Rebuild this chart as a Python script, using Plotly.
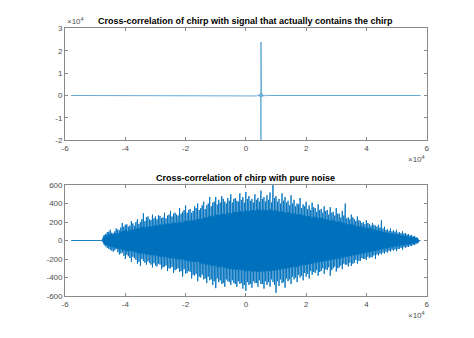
import plotly.graph_objects as go

BLUE = "#0072BD"

# ---- top panel: cross-correlation with signal containing the chirp (lags and values in units of 1e4)
top_lag = [-5.8, 0.20, 0.30, 0.36, 0.40, 0.43, 0.45, 0.47, 0.48, 0.49, 0.495, 0.4995, 0.5, 0.5005,
           0.505, 0.51, 0.52, 0.53, 0.55, 0.57, 0.60, 0.64, 0.70, 0.80, 5.8]
top_val = [0.0, 0.0, 0.01, -0.02, 0.03, -0.03, 0.04, -0.05, 0.08, -0.10, 0.12, -1.98, 2.39, -0.15,
           0.12, -0.10, 0.07, -0.06, 0.05, -0.04, 0.03, -0.02, 0.01, 0.0, 0.0]

# ---- bottom panel: cross-correlation with pure noise
flat_left = [-5.8, -4.78]
flat_right = [5.76, 5.8]

peak_lag = [-4.7, -4.6, -4.5, -4.4, -4.3, -4.2, -4.1, -4.0, -3.9, -3.8, -3.7, -3.6, -3.5, -3.4, -3.3,
            -3.2, -3.1, -3.0, -2.9, -2.8, -2.7, -2.6, -2.5, -2.4, -2.3, -2.2, -2.1, -2.0, -1.9, -1.8,
            -1.7, -1.6, -1.5, -1.4, -1.3, -1.2, -1.1, -1.0, -0.9, -0.8, -0.7, -0.6, -0.5, -0.4, -0.3,
            -0.2, -0.1, 0.0, 0.1, 0.2, 0.3, 0.4, 0.5, 0.6, 0.7, 0.8, 0.9, 1.0, 1.1, 1.2,
            1.3, 1.4, 1.5, 1.6, 1.7, 1.8, 1.9, 2.0, 2.1, 2.2, 2.3, 2.4, 2.5, 2.6, 2.7,
            2.8, 2.9, 3.0, 3.1, 3.2, 3.3, 3.4, 3.5, 3.6, 3.7, 3.8, 3.9, 4.0, 4.1, 4.2,
            4.3, 4.4, 4.5, 4.6, 4.7, 4.8, 4.9, 5.0, 5.1, 5.2, 5.3, 5.4, 5.5, 5.6, 5.7]
peak_top = [60, 90, 116, 80, 130, 110, 190, 170, 150, 210, 160, 230, 200, 295, 250,
            230, 280, 260, 275, 240, 300, 270, 320, 290, 280, 350, 310, 380, 330, 300,
            370, 400, 350, 420, 380, 470, 410, 470, 440, 480, 420, 460, 500, 450, 430,
            510, 470, 525, 480, 450, 500, 460, 540, 470, 490, 520, 600, 480, 450, 510,
            470, 430, 490, 440, 400, 460, 390, 420, 380, 410, 350, 390, 340, 370, 330,
            360, 310, 350, 290, 320, 400, 250, 280, 230, 260, 210, 200, 220, 180, 190,
            160, 170, 220, 150, 120, 130, 110, 115, 90, 100, 80, 70, 60, 50, 30]
peak_bot = [-50, -80, -100, -120, -90, -150, -130, -200, -170, -230, -190, -250, -275, -220, -260,
            -240, -290, -270, -250, -310, -280, -330, -300, -350, -310, -340, -390, -360, -330, -410,
            -380, -440, -400, -420, -460, -430, -480, -515, -450, -470, -500, -440, -480, -460, -500,
            -470, -520, -545, -480, -510, -460, -500, -470, -520, -480, -500, -450, -565, -490, -460,
            -510, -440, -470, -420, -450, -400, -430, -390, -410, -370, -350, -380, -330, -360, -320,
            -380, -300, -335, -290, -310, -260, -280, -275, -240, -250, -220, -200, -210, -190, -180,
            -200, -160, -150, -140, -130, -120, -110, -115, -90, -100, -80, -70, -60, -50, -30]

mid_lag = [-4.65, -4.55, -4.45, -4.35, -4.25, -4.15, -4.05, -3.95, -3.85, -3.75,
           -3.65, -3.55, -3.45, -3.35, -3.25, -3.15, -3.05, -2.95, -2.85, -2.75,
           -2.65, -2.55, -2.45, -2.35, -2.25, -2.15, -2.05, -1.95, -1.85, -1.75,
           -1.65, -1.55, -1.45, -1.35, -1.25, -1.15, -1.05, -0.95, -0.85, -0.75,
           -0.65, -0.55, -0.45, -0.35, -0.25, -0.15, -0.05, 0.05, 0.15, 0.25,
           0.35, 0.45, 0.55, 0.65, 0.75, 0.85, 0.95, 1.05, 1.15, 1.25,
           1.35, 1.45, 1.55, 1.65, 1.75, 1.85, 1.95, 2.05, 2.15, 2.25,
           2.35, 2.45, 2.55, 2.65, 2.75, 2.85, 2.95, 3.05, 3.15, 3.25,
           3.35, 3.45, 3.55, 3.65, 3.75, 3.85, 3.95, 4.05, 4.15, 4.25,
           4.35, 4.45, 4.55, 4.65, 4.75, 4.85, 4.95, 5.05, 5.15, 5.25,
           5.35, 5.45, 5.55, 5.65]
mid_top = [70, 95, 85, 100, 120, 140, 150, 175, 160, 185,
           200, 180, 230, 210, 260, 220, 240, 230, 265, 250,
           240, 280, 260, 300, 270, 290, 330, 300, 340, 320,
           350, 330, 380, 340, 400, 370, 420, 390, 410, 450,
           400, 430, 410, 460, 420, 440, 410, 450, 430, 410,
           440, 420, 450, 420, 440, 410, 460, 420, 400, 430,
           410, 380, 400, 370, 390, 350, 370, 340, 330, 360,
           310, 330, 300, 320, 280, 300, 270, 290, 250, 270,
           240, 230, 250, 210, 220, 190, 175, 190, 160, 170,
           150, 140, 130, 115, 105, 100, 95, 85, 80, 75,
           65, 55, 45, 35]
mid_bot = [-65, -90, -110, -105, -125, -140, -165, -155, -190, -175,
           -210, -230, -200, -240, -225, -260, -245, -280, -260, -290,
           -270, -300, -285, -320, -300, -330, -310, -350, -340, -370,
           -360, -390, -370, -410, -390, -420, -440, -410, -430, -460,
           -420, -450, -430, -470, -440, -460, -480, -450, -470, -440,
           -460, -430, -470, -440, -450, -420, -480, -440, -420, -450,
           -410, -420, -390, -400, -370, -380, -350, -360, -330, -340,
           -320, -340, -300, -310, -290, -320, -280, -300, -270, -250,
           -260, -240, -250, -210, -220, -190, -200, -175, -180, -160,
           -150, -140, -130, -120, -110, -100, -95, -90, -80, -70,
           -65, -55, -45, -35]

core_up = [40, 55, 70, 60, 80, 75, 100, 110, 95, 120, 115, 135, 130, 150, 140,
           155, 145, 165, 160, 175, 165, 185, 175, 195, 185, 200, 190, 215, 205, 220,
           210, 235, 225, 250, 240, 265, 255, 280, 270, 290, 280, 300, 290, 310, 300,
           320, 305, 325, 315, 330, 320, 335, 325, 330, 320, 335, 320, 325, 310, 315,
           300, 305, 290, 295, 280, 285, 270, 260, 265, 250, 255, 240, 245, 230, 225,
           215, 220, 200, 205, 190, 185, 170, 175, 160, 150, 155, 140, 130, 135, 120,
           110, 105, 95, 90, 80, 75, 70, 60, 55, 50, 45, 40, 35, 30, 20]
core_lo = [-40, -50, -65, -70, -75, -90, -95, -105, -115, -110, -125, -130, -140, -135, -150,
           -150, -160, -155, -170, -175, -170, -185, -190, -185, -200, -205, -200, -215, -220, -225,
           -230, -225, -245, -250, -255, -265, -270, -275, -285, -280, -295, -300, -300, -310, -315,
           -310, -320, -330, -325, -335, -330, -340, -330, -335, -325, -330, -320, -320, -315, -305,
           -300, -295, -290, -280, -285, -270, -265, -260, -255, -245, -240, -235, -230, -220, -215,
           -210, -205, -195, -195, -185, -175, -170, -165, -155, -150, -145, -135, -130, -125, -115,
           -110, -100, -95, -85, -80, -75, -65, -60, -55, -50, -42, -38, -32, -28, -20]

x_ticks = [-6, -4, -2, 0, 2, 4, 6]
top_y_ticks = [-2, -1, 0, 1, 2, 3]
bot_y_ticks = [-600, -400, -200, 0, 200, 400, 600]

title_top = "Cross-correlation of chirp with signal that actually contains the chirp"
title_bot = "Cross-correlation of chirp with pure noise"

# zig-zag through the read peaks (main and secondary), in lag order
pts = sorted(list(zip(peak_lag, peak_top, peak_bot)) + list(zip(mid_lag, mid_top, mid_bot)))
zz_x, zz_y = list(flat_left), [0, 0]
for lg, t, b in pts:
    zz_x += [lg, lg]
    zz_y += [t, b]
zz_x += flat_right
zz_y += [0, 0]

band_x = [flat_left[1]] + peak_lag + [flat_right[0]]
band_up = [0] + core_up + [0]
band_lo = [0] + core_lo + [0]

fig = go.Figure()
fig.add_trace(go.Scatter(x=top_lag, y=top_val, mode="lines", line=dict(color=BLUE, width=1),
                         opacity=0.6, xaxis="x", yaxis="y", showlegend=False, hoverinfo="skip"))
fig.add_trace(go.Scatter(x=band_x + band_x[::-1], y=band_up + band_lo[::-1], fill="toself",
                         fillcolor=BLUE, mode="lines", line=dict(width=0.5, color=BLUE),
                         xaxis="x2", yaxis="y2", showlegend=False, hoverinfo="skip"))
fig.add_trace(go.Scatter(x=zz_x, y=zz_y, mode="lines", line=dict(color=BLUE, width=0.9),
                         xaxis="x2", yaxis="y2", showlegend=False, hoverinfo="skip"))

W, H = 474, 338
xd = [62 / W, 429 / W]
yd_top = [(H - 140) / H, (H - 25) / H]
yd_bot = [(H - 300) / H, (H - 186) / H]

tickfont = dict(family="Liberation Sans, Arial, sans-serif", size=8, color="#4d4d4d")
axis_common = dict(showgrid=False, zeroline=False, showline=True, linecolor="#8a8a8a", linewidth=1,
                   mirror="ticks", ticks="inside", ticklen=3, tickcolor="#8a8a8a", tickfont=tickfont)

def lbl(vals):
    return [str(v) for v in vals]

fig.update_layout(
    width=W, height=H, margin=dict(l=0, r=0, t=0, b=0),
    paper_bgcolor="white", plot_bgcolor="white",
    xaxis=dict(domain=xd, anchor="y", range=[-6, 6], tickvals=x_ticks, ticktext=lbl(x_ticks), **axis_common),
    yaxis=dict(domain=yd_top, anchor="x", range=[-2, 3], tickvals=top_y_ticks, ticktext=lbl(top_y_ticks), **axis_common),
    xaxis2=dict(domain=xd, anchor="y2", range=[-6, 6], tickvals=x_ticks, ticktext=lbl(x_ticks), **axis_common),
    yaxis2=dict(domain=yd_bot, anchor="x2", range=[-600, 600], tickvals=bot_y_ticks, ticktext=lbl(bot_y_ticks), **axis_common),
)

title_font = dict(family="Liberation Sans, Arial, sans-serif", size=9, color="black")
xc = (xd[0] + xd[1]) / 2
fig.add_annotation(text="<b>" + title_top + "</b>", x=xc, y=yd_top[1], xref="paper", yref="paper",
                   xanchor="center", yanchor="bottom", showarrow=False, font=title_font)
fig.add_annotation(text="<b>" + title_bot + "</b>", x=xc, y=yd_bot[1], xref="paper", yref="paper",
                   xanchor="center", yanchor="bottom", showarrow=False, font=title_font)

exp_font = dict(family="Liberation Sans, Arial, sans-serif", size=8, color="#4d4d4d")
fig.add_annotation(text="×10<sup>4</sup>", x=xd[0], y=yd_top[1], xref="paper", yref="paper",
                   xanchor="left", yanchor="bottom", showarrow=False, font=exp_font)
fig.add_annotation(text="×10<sup>4</sup>", x=xd[1], y=yd_top[0], xref="paper", yref="paper",
                   xanchor="right", yanchor="top", yshift=-12, showarrow=False, font=exp_font)
fig.add_annotation(text="×10<sup>4</sup>", x=xd[1], y=yd_bot[0], xref="paper", yref="paper",
                   xanchor="right", yanchor="top", yshift=-12, showarrow=False, font=exp_font)

fig.write_html("out.html")
